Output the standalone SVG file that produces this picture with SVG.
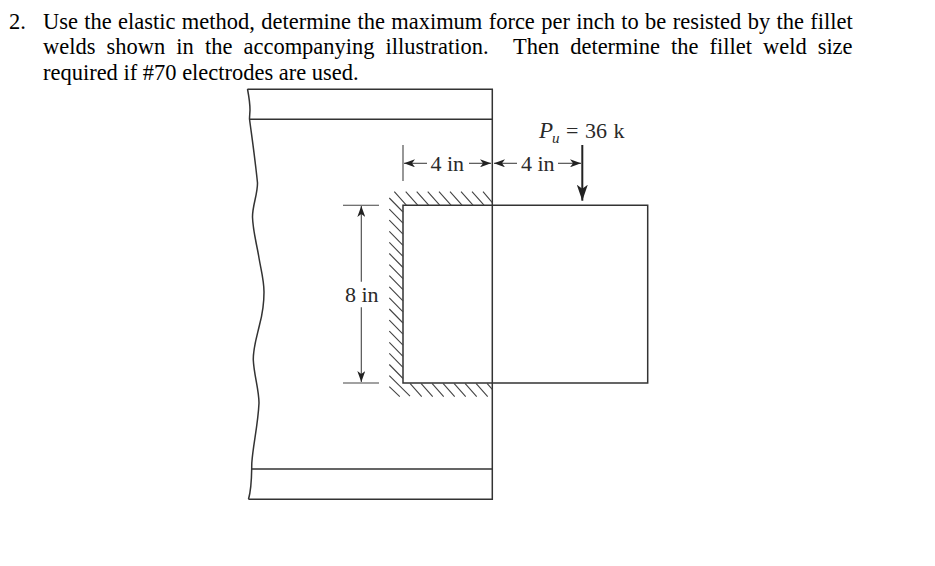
<svg xmlns="http://www.w3.org/2000/svg" width="935" height="566" viewBox="0 0 935 566">
<defs>
<marker id="dim" markerUnits="userSpaceOnUse" markerWidth="12" markerHeight="8" refX="11" refY="4" orient="auto-start-reverse"><path d="M0 0L11 4L0 8L3 4Z" fill="#222"/></marker>
<marker id="load" markerUnits="userSpaceOnUse" markerWidth="17" markerHeight="11" refX="16" refY="5.5" orient="auto"><path d="M0 0L16 5.5L0 11L4 5.5Z" fill="#222"/></marker>
</defs>
<style>
.q{font-family:"Liberation Serif","Times New Roman",serif;font-size:22.47px;fill:#000}
.l{font-family:"Liberation Serif","Times New Roman",serif;font-size:22px;fill:#2a2a2a}
.s{fill:none;stroke:#333;stroke-width:1.5}
.t{fill:none;stroke:#444;stroke-width:1.1}
.h{fill:none;stroke:#444;stroke-width:1.1}
.a{fill:none;stroke:#444;stroke-width:1.1;marker-end:url(#dim)}
</style>
<rect width="935" height="566" fill="#fff"/>
<g id="question">
<text class="q" x="9" y="29">2.</text>
<text class="q" x="43" y="29" word-spacing="0.74">Use the elastic method, determine the maximum force per inch to be resisted by the fillet</text>
<text class="q" x="43" y="54" word-spacing="5.5">welds shown in the accompanying illustration.</text>
<text class="q" x="513" y="54" word-spacing="5.4">Then determine the fillet weld size</text>
<text class="q" x="43" y="80">required if #70 electrodes are used.</text>
</g>
<g id="column">
<path class="s" d="M247.500 89C249 97 250 103 250 110C249.800 114 249.500 117 249.500 119C252 138 255 158 257.500 183C257.500 195 252.500 205 252.500 217C253 232 257 245 259 258C261 270 264 280 264 292C264 303 263 312 259.500 325C257 336 253 348 253.300 360C254 375 259 390 259 403C258 425 253 445 251.800 463C251.500 475 252 487 248.500 499.300"/>
<path class="s" d="M247.500 89.300H492.300V499.300H248.500"/>
<path class="s" d="M249.500 119.300H492.300M251.500 469H492.300"/>
</g>
<g id="bracket">
<path class="s" d="M492.300 205.300H647.700V383H403V205.300H492.300"/>
</g>
<g id="weld">
<path class="h" d="M394.300 191.700l12 13.500M405.700 191.700l12 13.500M416.700 191.700l12 13.500M427.700 191.700l12 13.500M439 191.700l12 13.500M450 191.700l12 13.500M461 191.700l12 13.500M472 191.700l12 13.500M483 191.700l9.300 11"/>
<path class="h" d="M389.300 198l13.700 14M389.300 209.100l13.700 14M389.300 220.200l13.700 14M389.300 231.300l13.700 14M389.300 242.400l13.700 14M389.300 253.500l13.700 14M389.300 264.600l13.700 14M389.300 275.700l13.700 14M389.300 286.800l13.700 14M389.300 297.900l13.700 14M389.300 309l13.700 14M389.300 320.100l13.700 14M389.300 331.200l13.700 14M389.300 342.300l13.700 14M389.300 353.400l13.700 14M389.300 364.500l13.700 14M389.300 375.600l20.700 20.500M389.300 386.700l10.500 10"/>
<path class="h" d="M410 383.300l11.700 13.400M421 383.300l11.700 13.400M432 383.300l11.700 13.400M443 383.300l11.700 13.400M454 383.300l11.700 13.400M465 383.300l11.700 13.400M476 383.300l11.700 13.400M487 383.300l5.300 6"/>
</g>
<g id="connectors">
<path class="t" d="M403 145V181M343 205.300H379M343 383H379"/>
<path class="a" d="M427 163.300H404"/>
<path class="a" d="M469 163.300H491"/>
<path class="a" d="M517 163.300H494"/>
<path class="a" d="M558 163.300H581"/>
<path class="a" d="M361.300 281.700V206"/>
<path class="a" d="M361.300 307.300V382"/>
<path d="M582.300 145V200.700" fill="none" stroke="#222" stroke-width="2" marker-end="url(#load)"/>
</g>
<g id="labels">
<text class="l" x="430.500" y="171">4 in</text>
<text class="l" x="521" y="171">4 in</text>
<text class="l" x="345" y="302">8 in</text>
<text class="l" x="539" y="138" font-style="italic" style="font-size:23px">P</text>
<text class="l" x="552" y="143" font-style="italic" style="font-size:15px">u</text>
<text class="l" x="566" y="138" word-spacing="1">= 36 k</text>
</g>
</svg>
